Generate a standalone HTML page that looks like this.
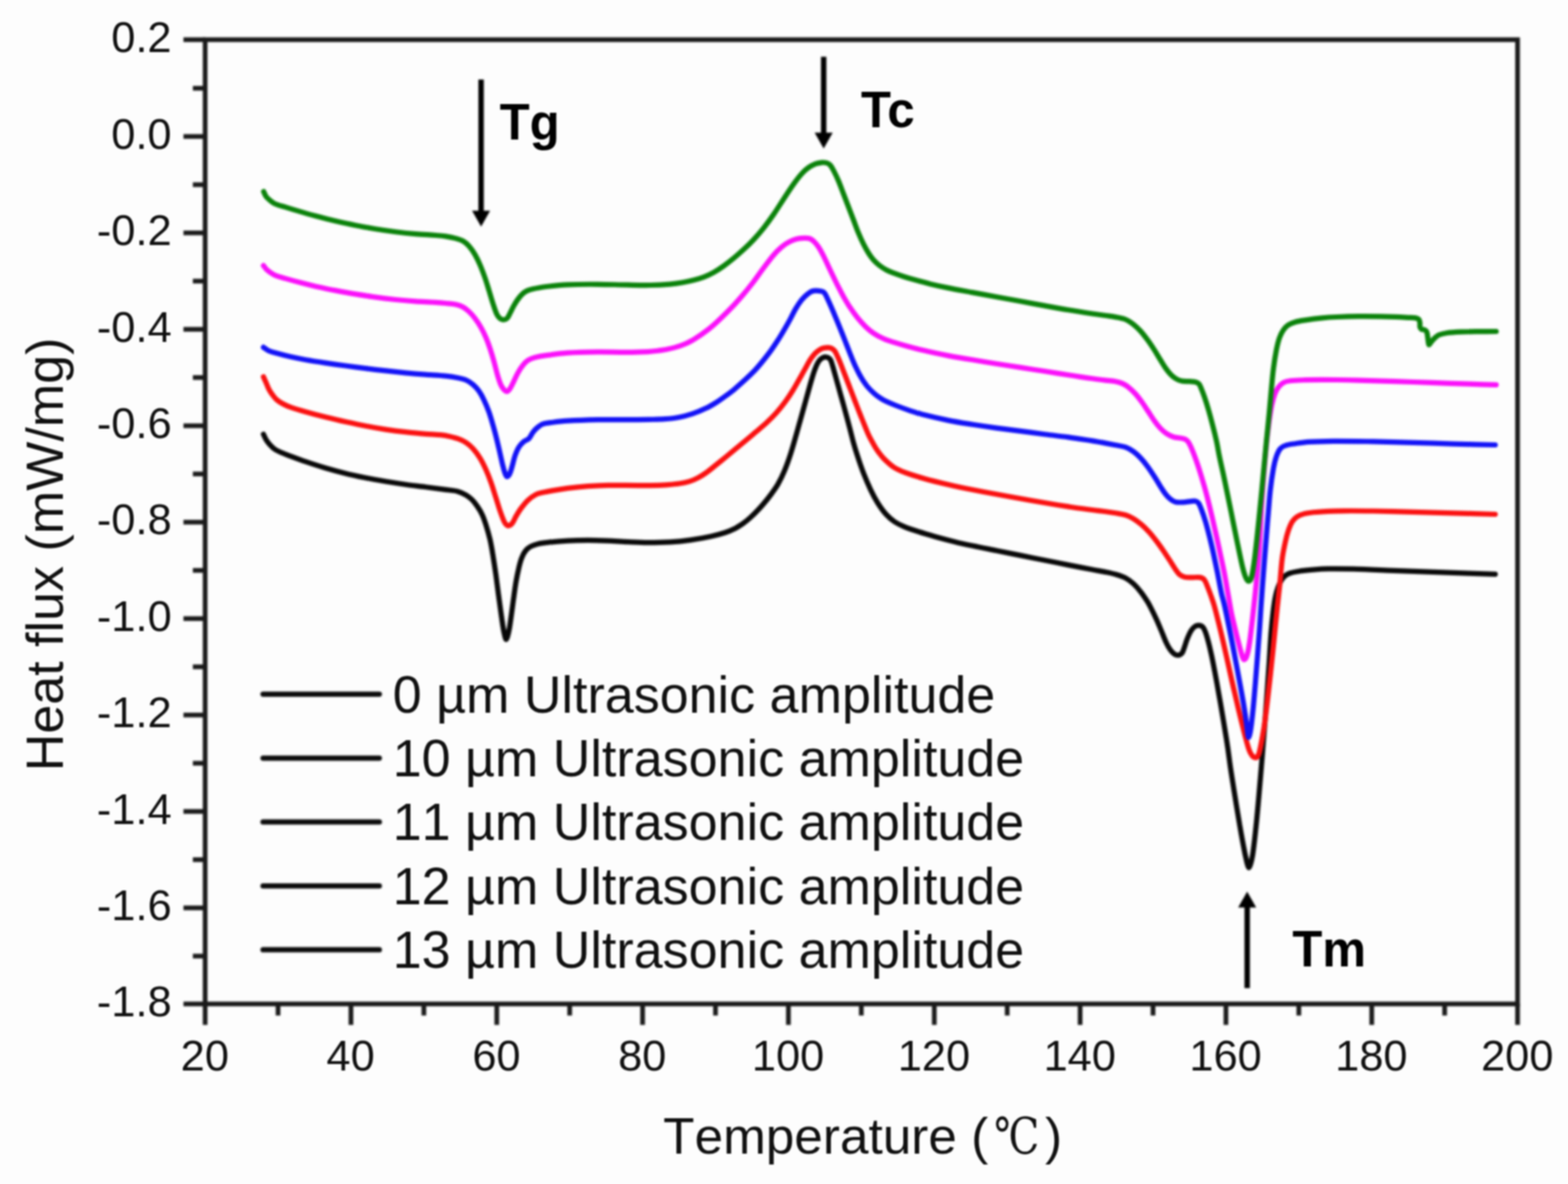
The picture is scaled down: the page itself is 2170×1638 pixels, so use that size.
<!DOCTYPE html>
<html lang="en"><head><meta charset="utf-8"><title>DSC heat flux curves</title>
<style>
html,body{margin:0;padding:0;background:#fdfdfd;}
body{width:2170px;height:1638px;overflow:hidden;}
svg{display:block;}
.gl{filter:blur(1.7px);}
.gt{filter:blur(1.2px);}
text{font-family:"Liberation Sans","Noto Sans CJK SC",sans-serif;fill:#101010;font-kerning:none;}
.tick{font-size:60px;}
.big{font-size:72px;}
.ann{font-size:68px;font-weight:bold;fill:#000;font-kerning:normal;}
.cjk{font-family:"DejaVu Serif","Noto Serif CJK SC",serif;}
.ax{stroke:#1a1a1a;stroke-width:6.5;fill:none;stroke-linecap:butt;}
.cv{fill:none;stroke-width:7.2;stroke-linejoin:round;stroke-linecap:round;}
.lg{stroke:#0c0c0c;stroke-width:7.2;stroke-linecap:round;}
.ar{stroke:#000;stroke-width:7.5;stroke-linecap:butt;}
</style></head><body>
<svg width="2170" height="1638" viewBox="0 0 2170 1638">
<rect x="0" y="0" width="2170" height="1638" fill="#fdfdfd"/>
<g class="gl">
<g class="ax">
<rect x="283.9" y="54.9" width="1816.3" height="1334.0"/>
<line x1="253.9" y1="54.9" x2="283.9" y2="54.9"/>
<line x1="266.9" y1="122.1" x2="283.9" y2="122.1"/>
<line x1="253.9" y1="188.8" x2="283.9" y2="188.8"/>
<line x1="266.9" y1="255.5" x2="283.9" y2="255.5"/>
<line x1="253.9" y1="322.2" x2="283.9" y2="322.2"/>
<line x1="266.9" y1="388.9" x2="283.9" y2="388.9"/>
<line x1="253.9" y1="455.6" x2="283.9" y2="455.6"/>
<line x1="266.9" y1="522.3" x2="283.9" y2="522.3"/>
<line x1="253.9" y1="589.0" x2="283.9" y2="589.0"/>
<line x1="266.9" y1="655.7" x2="283.9" y2="655.7"/>
<line x1="253.9" y1="722.4" x2="283.9" y2="722.4"/>
<line x1="266.9" y1="789.1" x2="283.9" y2="789.1"/>
<line x1="253.9" y1="855.8" x2="283.9" y2="855.8"/>
<line x1="266.9" y1="922.5" x2="283.9" y2="922.5"/>
<line x1="253.9" y1="989.2" x2="283.9" y2="989.2"/>
<line x1="266.9" y1="1055.9" x2="283.9" y2="1055.9"/>
<line x1="253.9" y1="1122.6" x2="283.9" y2="1122.6"/>
<line x1="266.9" y1="1189.3" x2="283.9" y2="1189.3"/>
<line x1="253.9" y1="1256.0" x2="283.9" y2="1256.0"/>
<line x1="266.9" y1="1322.7" x2="283.9" y2="1322.7"/>
<line x1="253.9" y1="1388.9" x2="283.9" y2="1388.9"/>
<line x1="283.9" y1="1388.9" x2="283.9" y2="1417.9"/>
<line x1="384.8" y1="1388.9" x2="384.8" y2="1404.9"/>
<line x1="485.7" y1="1388.9" x2="485.7" y2="1417.9"/>
<line x1="586.6" y1="1388.9" x2="586.6" y2="1404.9"/>
<line x1="687.5" y1="1388.9" x2="687.5" y2="1417.9"/>
<line x1="788.4" y1="1388.9" x2="788.4" y2="1404.9"/>
<line x1="889.3" y1="1388.9" x2="889.3" y2="1417.9"/>
<line x1="990.2" y1="1388.9" x2="990.2" y2="1404.9"/>
<line x1="1091.1" y1="1388.9" x2="1091.1" y2="1417.9"/>
<line x1="1192.0" y1="1388.9" x2="1192.0" y2="1404.9"/>
<line x1="1293.0" y1="1388.9" x2="1293.0" y2="1417.9"/>
<line x1="1393.9" y1="1388.9" x2="1393.9" y2="1404.9"/>
<line x1="1494.8" y1="1388.9" x2="1494.8" y2="1417.9"/>
<line x1="1595.7" y1="1388.9" x2="1595.7" y2="1404.9"/>
<line x1="1696.6" y1="1388.9" x2="1696.6" y2="1417.9"/>
<line x1="1797.5" y1="1388.9" x2="1797.5" y2="1404.9"/>
<line x1="1898.4" y1="1388.9" x2="1898.4" y2="1417.9"/>
<line x1="1999.3" y1="1388.9" x2="1999.3" y2="1404.9"/>
<line x1="2100.2" y1="1388.9" x2="2100.2" y2="1417.9"/>
</g>
<path class="cv" stroke="#080808" d="M364.6 600.7C365.8 603.2 366.8 605.9 368.3 608.3C369.7 610.6 371.4 612.8 373.2 614.8C375.3 617.1 377.5 619.6 380.1 621.4C383.0 623.4 386.5 624.8 389.8 626.3C393.9 628.1 398.0 629.6 402.2 631.2C409.1 633.8 416.0 636.4 423.0 638.7C432.1 641.8 441.3 644.8 450.6 647.5C459.8 650.2 469.0 652.7 478.3 654.9C487.4 657.2 496.7 659.1 505.9 661.0C515.1 662.8 524.3 664.4 533.6 666.0C542.8 667.5 552.0 668.9 561.2 670.2C570.4 671.5 579.7 672.5 588.9 673.7C598.1 674.9 607.3 676.1 616.5 677.4C622.3 678.2 628.2 678.4 633.8 679.9C637.7 680.9 641.4 682.8 644.9 684.8C647.9 686.6 650.7 688.8 653.2 691.3C655.9 694.0 658.3 697.2 660.5 700.4C663.1 704.2 665.6 708.2 667.5 712.4C669.6 716.8 671.0 721.6 672.5 726.2C674.6 732.8 676.5 739.5 678.1 746.2C679.8 753.5 681.0 760.9 682.2 768.3C683.7 777.5 685.1 786.8 686.4 796.0C687.6 804.7 688.6 813.5 689.8 822.2C690.9 830.7 692.1 839.2 693.3 847.7C694.2 854.0 695.0 860.3 696.0 866.5C696.6 870.2 697.2 873.9 698.1 877.5C698.6 879.8 699.3 883.7 700.2 884.4C700.7 884.8 701.9 882.2 702.3 880.9C703.5 877.1 704.3 873.1 705.0 869.2C706.1 862.8 706.9 856.3 707.8 849.9C708.8 843.0 709.6 836.1 710.6 829.2C711.7 821.4 712.7 813.5 714.0 805.7C715.2 798.7 716.6 791.8 718.2 784.9C719.3 780.2 720.5 775.5 722.3 771.1C723.7 767.7 725.5 764.2 727.8 761.4C729.6 759.2 732.1 757.3 734.7 755.9C737.7 754.3 741.1 753.2 744.4 752.4C748.9 751.3 753.6 750.8 758.3 750.3C767.5 749.3 776.7 748.6 785.9 748.1C795.1 747.6 804.4 747.4 813.6 747.4C822.8 747.4 832.0 747.8 841.2 748.2C850.4 748.6 859.7 749.3 868.9 749.7C878.1 750.1 887.3 750.6 896.5 750.6C906.9 750.6 917.3 750.4 927.7 749.8C936.9 749.3 946.1 748.4 955.3 747.1C964.6 745.8 973.8 744.2 983.0 742.2C990.0 740.7 996.9 738.9 1003.7 736.7C1008.4 735.2 1013.1 733.2 1017.5 731.0C1021.4 729.0 1025.0 726.5 1028.6 724.0C1032.0 721.6 1035.2 718.9 1038.3 716.1C1042.1 712.7 1045.8 709.1 1049.3 705.3C1053.2 701.2 1056.9 696.8 1060.5 692.4C1063.3 689.0 1065.9 685.5 1068.5 682.0C1071.3 678.0 1074.2 674.1 1076.6 669.9C1079.9 663.9 1083.0 657.6 1085.6 651.3C1088.9 643.5 1091.7 635.4 1094.3 627.3C1097.5 617.6 1100.1 607.7 1102.9 597.9C1104.6 591.8 1106.3 585.8 1108.0 579.7C1109.7 573.7 1111.3 567.7 1113.0 561.8C1114.7 555.5 1116.5 549.3 1118.2 543.0C1119.8 537.3 1121.3 531.6 1123.0 525.9C1124.4 521.0 1125.8 516.2 1127.6 511.4C1128.8 508.0 1130.2 504.6 1132.0 501.5C1133.2 499.5 1134.8 497.6 1136.6 496.1C1137.9 495.1 1139.7 494.1 1141.3 493.9C1142.9 493.7 1144.9 494.1 1146.3 494.9C1147.6 495.6 1148.9 496.9 1149.6 498.2C1150.8 500.5 1151.3 503.2 1152.1 505.7C1153.3 509.5 1154.3 513.4 1155.4 517.3C1156.8 522.2 1158.1 527.1 1159.5 532.0C1160.9 537.1 1162.3 542.1 1163.7 547.2C1165.1 552.1 1166.4 557.0 1167.8 561.9C1169.2 567.1 1170.6 572.2 1172.0 577.4C1173.7 583.7 1175.4 590.0 1177.0 596.3C1178.4 601.5 1179.5 606.7 1181.0 611.9C1182.7 618.1 1184.6 624.3 1186.6 630.4C1189.2 638.4 1191.9 646.4 1194.9 654.3C1198.0 662.2 1201.3 670.0 1204.9 677.6C1207.9 683.9 1211.1 690.1 1214.8 696.0C1218.3 701.5 1222.1 707.0 1226.5 711.8C1229.9 715.6 1233.9 719.0 1238.1 721.9C1242.2 724.6 1246.7 726.7 1251.3 728.6C1257.8 731.3 1264.5 733.4 1271.2 735.5C1279.4 738.2 1287.8 740.6 1296.1 743.0C1304.4 745.3 1312.7 747.4 1321.0 749.4C1329.3 751.5 1337.6 753.3 1345.9 755.1C1356.9 757.4 1368.0 759.5 1379.1 761.7C1390.2 764.0 1401.2 766.2 1412.3 768.4C1423.3 770.6 1434.4 772.8 1445.4 775.0C1456.5 777.2 1467.5 779.4 1478.6 781.6C1489.7 783.8 1500.7 785.9 1511.8 788.0C1517.9 789.2 1524.0 790.2 1530.0 791.4C1534.6 792.3 1539.3 793.2 1543.8 794.5C1548.5 795.9 1553.4 797.3 1557.7 799.6C1561.7 801.7 1565.3 804.6 1568.7 807.7C1572.2 810.9 1575.4 814.6 1578.4 818.4C1581.4 822.1 1584.1 826.2 1586.7 830.3C1588.7 833.3 1590.5 836.5 1592.2 839.8C1595.1 845.5 1597.9 851.2 1600.5 857.0C1602.9 862.3 1605.1 867.7 1607.4 873.1C1609.7 878.6 1611.7 884.3 1614.3 889.7C1615.9 893.1 1617.7 896.4 1619.9 899.4C1621.4 901.5 1623.3 903.6 1625.4 904.9C1626.9 905.9 1629.2 906.5 1630.9 906.3C1632.6 906.1 1634.7 904.9 1635.8 903.5C1637.5 901.2 1638.2 898.0 1639.2 895.2C1640.7 891.1 1641.7 886.8 1643.4 882.8C1645.0 879.0 1646.6 875.1 1648.9 871.7C1650.3 869.6 1652.3 867.5 1654.4 866.2C1656.0 865.3 1658.2 864.9 1660.0 865.2C1661.7 865.4 1663.7 866.3 1664.8 867.6C1666.4 869.4 1667.4 872.1 1668.3 874.5C1669.9 879.0 1671.2 883.7 1672.4 888.3C1674.0 894.3 1675.3 900.3 1676.6 906.3C1678.1 913.1 1679.4 920.0 1680.7 926.9C1682.1 934.3 1683.5 941.6 1684.8 949.0C1686.2 956.9 1687.6 964.8 1689.0 972.7C1690.4 980.8 1691.8 988.8 1693.1 996.8C1694.5 1005.3 1695.9 1013.9 1697.3 1022.4C1698.0 1027.0 1698.7 1031.6 1699.4 1036.2C1700.6 1045.1 1701.7 1053.9 1703.0 1062.8C1704.3 1071.8 1705.8 1080.8 1707.2 1089.7C1708.5 1098.3 1709.9 1106.8 1711.3 1115.3C1712.7 1123.7 1714.1 1132.1 1715.5 1140.5C1716.8 1148.2 1718.2 1156.0 1719.6 1163.7C1720.7 1169.7 1721.9 1175.7 1723.1 1181.7C1724.0 1185.8 1724.8 1190.0 1725.9 1194.1C1726.5 1196.3 1727.3 1200.1 1728.2 1200.4C1728.9 1200.6 1730.2 1197.2 1730.7 1195.5C1731.9 1191.5 1732.8 1187.3 1733.5 1183.1C1734.6 1176.2 1735.4 1169.2 1736.2 1162.3C1737.2 1153.6 1738.1 1144.8 1739.0 1136.1C1740.0 1126.0 1740.9 1115.8 1741.8 1105.7C1742.7 1095.2 1743.6 1084.7 1744.5 1074.2C1745.2 1065.8 1745.9 1057.4 1746.6 1049.0C1747.2 1041.2 1747.9 1033.3 1748.5 1025.5C1749.4 1014.0 1750.3 1002.4 1751.2 990.9C1752.2 977.8 1753.1 964.8 1754.0 951.7C1754.8 939.8 1755.7 927.8 1756.5 915.9C1757.4 902.6 1758.0 889.2 1759.0 875.9C1759.8 865.9 1760.8 855.9 1762.0 845.9C1762.8 839.2 1763.7 832.5 1765.0 825.9C1765.9 821.5 1767.0 817.1 1768.5 812.9C1769.7 809.4 1771.4 806.0 1773.3 802.9C1774.8 800.4 1776.7 798.0 1778.9 796.2C1780.9 794.6 1783.4 793.4 1785.8 792.7C1790.3 791.3 1795.0 790.6 1799.6 789.9C1806.5 788.9 1813.4 788.3 1820.3 787.8C1826.3 787.3 1832.4 787.0 1838.4 786.9C1849.9 786.8 1861.5 786.9 1873.0 787.2C1891.4 787.7 1909.9 788.6 1928.3 789.3C1946.7 790.0 1965.2 790.7 1983.6 791.4C2002.0 792.1 2020.5 792.7 2038.9 793.4C2049.0 793.8 2059.2 794.1 2069.3 794.4"/>
<path class="cv" stroke="#fa1010" d="M364.6 521.2C365.6 523.5 366.7 525.8 367.7 528.1C369.1 531.3 370.2 534.7 371.8 537.8C373.2 540.5 374.8 543.1 376.6 545.5C378.5 548.2 380.5 550.9 382.9 553.0C385.4 555.2 388.3 556.9 391.2 558.5C394.7 560.4 398.4 562.1 402.2 563.4C409.0 565.8 416.0 567.8 423.0 569.7C432.2 572.3 441.4 574.8 450.6 577.1C459.8 579.4 469.0 581.6 478.3 583.6C487.5 585.6 496.7 587.6 505.9 589.3C515.1 591.1 524.3 592.7 533.6 594.1C542.8 595.5 552.0 596.7 561.2 597.7C570.4 598.8 579.7 599.5 588.9 600.3C595.8 600.9 602.7 601.0 609.6 601.7C613.8 602.1 617.9 602.8 622.0 603.7C626.0 604.6 630.0 605.5 633.8 606.9C637.6 608.3 641.5 610.0 644.9 612.2C648.4 614.5 651.8 617.4 654.6 620.6C658.2 624.6 661.4 629.0 664.2 633.6C667.4 638.7 670.0 644.2 672.5 649.7C675.1 655.5 677.4 661.5 679.5 667.5C682.0 674.5 684.1 681.8 686.4 688.9C688.3 694.7 689.9 700.6 691.9 706.4C693.6 711.3 695.3 716.2 697.4 720.9C698.1 722.5 699.1 724.1 700.2 725.4C700.9 726.3 702.0 727.5 703.0 727.4C704.8 727.2 707.2 725.9 708.5 724.4C710.9 721.6 712.1 717.7 714.0 714.4C716.2 710.7 718.3 707.0 720.9 703.5C723.9 699.5 727.0 695.5 730.6 692.1C733.9 689.0 737.7 686.2 741.7 684.1C744.6 682.6 748.1 682.1 751.3 681.3C755.9 680.2 760.5 679.4 765.2 678.6C772.1 677.4 779.0 676.3 785.9 675.4C795.1 674.3 804.3 673.4 813.6 672.7C822.8 672.0 832.0 671.5 841.2 671.4C855.0 671.2 868.9 671.6 882.7 671.6C888.5 671.6 894.2 671.7 900.0 671.6C906.9 671.4 913.8 671.2 920.7 670.8C927.1 670.3 933.6 669.9 940.0 669.0C944.6 668.4 949.3 667.5 953.8 666.1C957.9 664.9 962.0 663.1 965.8 661.1C969.7 659.1 973.4 656.8 976.9 654.3C981.7 650.9 986.1 647.1 990.7 643.4C995.3 639.7 999.9 636.0 1004.5 632.3C1009.1 628.5 1013.7 624.6 1018.3 620.8C1022.9 616.9 1027.6 613.0 1032.2 609.2C1036.8 605.3 1041.4 601.5 1046.0 597.6C1051.0 593.4 1056.0 589.3 1060.8 584.9C1065.5 580.5 1070.1 576.0 1074.4 571.2C1079.0 566.0 1083.3 560.5 1087.4 554.9C1090.9 550.1 1094.2 545.0 1097.3 540.0C1100.2 535.3 1102.9 530.4 1105.6 525.6C1108.4 520.7 1111.1 515.6 1113.9 510.7C1116.6 506.0 1119.0 501.1 1122.0 496.6C1123.9 493.8 1126.0 491.1 1128.4 488.6C1130.2 486.8 1132.3 485.1 1134.5 483.7C1136.1 482.7 1137.8 481.9 1139.6 481.5C1141.8 481.0 1144.1 480.8 1146.3 480.9C1148.0 481.0 1149.8 481.3 1151.2 482.1C1152.8 483.0 1154.4 484.3 1155.4 485.8C1157.1 488.3 1158.2 491.3 1159.5 494.1C1161.0 497.4 1162.4 500.7 1163.7 504.0C1165.1 507.5 1166.4 511.1 1167.8 514.7C1169.2 518.3 1170.6 522.0 1172.0 525.6C1173.4 529.2 1174.7 532.8 1176.1 536.3C1177.5 540.0 1178.9 543.6 1180.3 547.3C1181.7 550.8 1183.0 554.4 1184.4 557.9C1185.8 561.5 1187.2 565.1 1188.6 568.7C1190.0 572.2 1191.3 575.6 1192.7 579.0C1194.4 583.2 1196.1 587.4 1197.8 591.6C1199.1 594.7 1200.2 597.8 1201.6 600.8C1203.0 603.8 1204.5 606.7 1206.1 609.6C1207.8 612.8 1209.6 616.0 1211.5 619.1C1212.9 621.3 1214.4 623.6 1216.0 625.7C1218.3 628.7 1220.5 631.8 1223.1 634.4C1227.3 638.5 1231.5 642.7 1236.4 645.9C1241.5 649.2 1247.3 651.7 1253.0 653.9C1261.6 657.2 1270.6 659.7 1279.5 662.2C1290.5 665.3 1301.6 667.9 1312.7 670.5C1323.7 673.0 1334.8 675.3 1345.9 677.5C1356.9 679.7 1368.0 681.8 1379.1 683.8C1390.2 685.9 1401.2 687.8 1412.3 689.8C1423.3 691.7 1434.4 693.7 1445.4 695.5C1456.5 697.4 1467.5 699.2 1478.6 700.9C1489.7 702.5 1500.7 704.1 1511.8 705.5C1517.9 706.3 1523.9 706.9 1530.0 707.7C1534.6 708.3 1539.2 709.0 1543.8 709.8C1548.5 710.6 1553.2 711.1 1557.7 712.5C1561.5 713.7 1565.2 715.6 1568.7 717.6C1572.6 720.0 1576.3 722.8 1579.8 725.8C1583.7 729.1 1587.4 732.9 1590.8 736.7C1594.7 741.1 1598.3 745.8 1601.9 750.5C1605.3 755.0 1608.4 759.6 1611.6 764.2C1614.4 768.4 1617.2 772.7 1619.9 776.9C1622.2 780.5 1624.4 784.3 1626.8 787.8C1628.5 790.3 1630.1 792.9 1632.3 794.8C1634.2 796.4 1636.8 797.6 1639.2 798.2C1642.3 799.0 1645.7 798.8 1648.9 798.9C1653.0 799.0 1657.4 798.1 1661.3 798.9C1663.4 799.3 1665.6 800.7 1666.9 802.4C1668.8 804.9 1669.7 808.4 1671.0 811.4C1672.6 815.3 1674.1 819.2 1675.5 823.1C1677.3 828.3 1679.2 833.6 1680.7 838.9C1682.7 846.0 1684.4 853.2 1686.2 860.4C1688.1 868.2 1690.0 875.9 1691.8 883.7C1693.7 891.7 1695.5 899.7 1697.3 907.7C1699.2 916.0 1700.9 924.3 1702.8 932.6C1704.6 940.9 1706.5 949.1 1708.4 957.3C1710.2 965.2 1712.0 973.0 1713.9 980.8C1715.7 988.3 1717.5 995.9 1719.4 1003.4C1721.0 1009.9 1722.6 1016.4 1724.4 1022.9C1725.7 1027.6 1726.8 1032.4 1728.5 1036.9C1729.5 1039.7 1730.7 1042.6 1732.5 1044.9C1733.6 1046.4 1735.6 1048.1 1737.1 1048.2C1738.4 1048.3 1740.3 1046.8 1741.1 1045.5C1742.6 1042.9 1743.1 1039.5 1743.8 1036.5C1744.8 1032.2 1745.6 1027.8 1746.4 1023.5C1747.6 1016.8 1748.8 1010.1 1749.8 1003.4C1751.4 992.3 1752.7 981.1 1754.0 969.9C1755.4 957.8 1756.8 945.7 1758.1 933.6C1759.5 920.4 1760.9 907.2 1762.3 893.9C1763.2 884.7 1764.1 875.4 1765.0 866.2C1765.9 857.0 1766.8 847.8 1767.8 838.6C1768.7 830.4 1769.6 822.1 1770.5 813.9C1770.8 811.5 1771.1 809.2 1771.3 806.8C1772.5 795.0 1773.1 783.1 1774.7 771.3C1775.7 763.9 1777.3 756.5 1778.9 749.2C1780.0 744.0 1781.3 738.9 1783.0 733.9C1784.5 729.6 1786.1 725.2 1788.5 721.5C1790.3 718.8 1792.8 716.4 1795.5 714.6C1797.9 712.9 1800.9 711.9 1803.8 711.1C1808.3 709.9 1813.0 709.4 1817.6 708.8C1821.7 708.3 1825.9 708.0 1830.0 707.8C1839.7 707.3 1849.4 706.9 1859.1 706.8C1872.9 706.6 1886.8 706.8 1900.6 707.0C1919.0 707.3 1937.5 707.9 1955.9 708.3C1974.3 708.8 1992.8 709.3 2011.2 709.8C2030.6 710.3 2049.9 710.9 2069.3 711.5"/>
<path class="cv" stroke="#1212f6" d="M364.6 480.4C367.0 482.0 369.2 484.1 371.8 485.3C374.8 486.7 378.2 487.4 381.5 488.3C388.4 490.2 395.3 492.0 402.2 493.6C409.1 495.2 416.0 496.5 423.0 497.7C432.2 499.3 441.4 500.7 450.6 502.1C459.8 503.5 469.1 504.8 478.3 506.0C487.5 507.3 496.7 508.5 505.9 509.6C515.1 510.8 524.4 511.9 533.6 512.9C542.8 513.9 552.0 514.9 561.2 515.8C570.4 516.7 579.7 517.5 588.9 518.2C598.1 518.9 607.3 519.2 616.5 520.1C622.3 520.7 628.1 521.6 633.8 522.7C637.6 523.5 641.4 524.2 644.9 525.8C648.4 527.3 651.7 529.5 654.6 532.0C657.7 534.6 660.5 537.8 662.9 541.1C665.6 544.9 667.8 549.1 669.8 553.4C672.4 558.8 674.7 564.4 676.7 570.0C678.8 575.9 680.5 582.0 682.2 588.0C684.2 594.9 686.0 601.9 687.7 608.8C689.2 614.8 690.5 620.7 691.9 626.7C693.3 632.7 694.5 638.7 696.0 644.7C696.8 648.0 697.6 651.3 698.8 654.4C699.5 656.2 700.4 659.0 701.6 659.4C702.5 659.7 704.3 657.7 705.0 656.4C706.6 653.3 707.5 649.6 708.5 646.1C710.0 641.1 710.9 635.8 712.6 630.9C714.1 626.6 715.8 622.2 718.2 618.4C720.0 615.5 722.5 613.0 725.1 610.8C727.1 609.1 730.2 608.6 732.0 606.7C734.3 604.3 735.5 600.8 737.5 598.1C739.1 595.9 740.9 593.8 743.0 592.1C745.5 590.0 748.2 587.7 751.3 586.6C755.6 585.1 760.5 584.9 765.2 584.3C772.1 583.4 779.0 582.6 785.9 582.2C799.7 581.4 813.6 581.0 827.4 580.7C841.2 580.5 855.1 580.8 868.9 580.7C878.1 580.7 887.3 580.6 896.5 580.4C904.3 580.2 912.2 580.3 920.0 579.7C926.7 579.2 933.4 578.5 940.0 577.2C946.2 576.1 952.4 574.4 958.4 572.4C964.7 570.3 970.9 567.7 976.9 564.8C981.7 562.6 986.2 559.9 990.7 557.1C994.9 554.5 999.0 551.5 1003.0 548.6C1007.2 545.7 1011.4 542.8 1015.3 539.5C1024.8 531.3 1034.3 523.1 1043.0 514.1C1050.5 506.4 1057.2 497.8 1063.7 489.3C1068.7 482.8 1073.1 475.9 1077.5 469.1C1081.4 463.0 1085.0 456.8 1088.6 450.5C1090.5 447.3 1092.3 443.9 1094.1 440.6C1096.4 436.2 1098.5 431.7 1101.0 427.4C1103.5 423.2 1106.2 419.0 1109.3 415.1C1111.7 412.1 1114.5 409.2 1117.6 406.8C1120.1 404.9 1122.9 402.9 1125.9 402.4C1129.4 401.7 1133.4 402.3 1137.0 403.0C1138.5 403.3 1140.2 404.1 1141.1 405.3C1142.9 407.6 1144.0 410.8 1145.3 413.6C1147.2 417.6 1149.0 421.7 1150.8 425.8C1153.2 431.2 1155.4 436.7 1157.7 442.1C1160.0 447.7 1162.3 453.3 1164.5 458.9C1166.2 463.1 1167.8 467.3 1169.5 471.5C1171.2 475.8 1172.8 480.0 1174.5 484.3C1176.1 488.4 1177.7 492.5 1179.4 496.6C1181.0 500.4 1182.6 504.3 1184.4 508.0C1186.0 511.4 1187.6 514.7 1189.4 518.0C1191.0 520.9 1192.6 523.7 1194.4 526.5C1196.5 529.6 1198.6 532.7 1201.0 535.5C1203.6 538.5 1206.4 541.3 1209.3 543.9C1211.9 546.3 1214.7 548.4 1217.6 550.3C1220.2 552.1 1223.0 553.7 1225.9 555.1C1230.5 557.3 1235.2 559.2 1240.0 561.0C1246.6 563.6 1253.3 566.0 1260.0 568.3C1266.4 570.4 1272.9 572.5 1279.5 574.1C1290.5 576.9 1301.6 579.4 1312.7 581.6C1323.7 583.8 1334.8 585.5 1345.9 587.3C1356.9 589.0 1368.0 590.6 1379.1 592.1C1390.2 593.6 1401.2 595.0 1412.3 596.4C1423.3 597.9 1434.4 599.3 1445.4 600.7C1456.5 602.1 1467.6 603.4 1478.6 604.9C1489.7 606.4 1500.7 608.2 1511.8 609.9C1517.9 610.9 1523.9 612.0 1530.0 613.1C1534.6 614.0 1539.2 614.9 1543.8 615.8C1548.4 616.7 1553.3 617.1 1557.7 618.7C1561.6 620.1 1565.3 622.4 1568.7 624.8C1572.2 627.3 1575.4 630.3 1578.4 633.5C1581.9 637.2 1585.1 641.2 1588.1 645.3C1591.5 649.9 1594.6 654.7 1597.7 659.5C1600.6 664.0 1603.2 668.6 1606.0 673.1C1608.3 676.7 1610.4 680.3 1613.0 683.6C1615.0 686.2 1617.3 688.7 1619.9 690.7C1621.9 692.3 1624.3 693.9 1626.8 694.5C1630.3 695.3 1634.1 695.0 1637.8 694.8C1641.0 694.7 1644.3 693.9 1647.5 693.6C1649.8 693.4 1652.3 692.8 1654.4 693.2C1656.0 693.5 1657.7 694.6 1658.6 695.9C1660.4 698.5 1661.5 701.8 1662.7 704.9C1664.8 710.4 1666.6 715.9 1668.3 721.5C1670.3 728.3 1672.1 735.3 1673.8 742.2C1675.7 750.0 1677.6 757.8 1679.3 765.7C1681.2 774.4 1683.0 783.1 1684.8 791.8C1686.7 801.5 1688.3 811.2 1690.4 820.9C1691.6 826.3 1693.3 831.5 1694.5 836.9C1696.5 845.7 1698.3 854.7 1700.1 863.5C1702.0 872.7 1703.8 881.8 1705.6 891.0C1707.5 900.5 1709.3 910.0 1711.1 919.6C1713.0 929.4 1714.8 939.3 1716.6 949.2C1718.0 957.0 1719.5 964.9 1720.8 972.7C1721.8 978.7 1722.7 984.6 1723.6 990.6C1724.3 995.7 1724.9 1000.8 1725.6 1005.9C1726.3 1010.6 1726.7 1017.7 1727.7 1019.9C1728.1 1020.7 1729.4 1016.7 1729.8 1014.9C1730.8 1010.6 1731.3 1006.1 1731.9 1001.7C1732.9 993.4 1733.8 985.1 1734.6 976.8C1735.6 966.0 1736.5 955.1 1737.4 944.3C1738.4 932.5 1739.3 920.7 1740.2 908.9C1741.1 896.9 1742.1 885.0 1742.9 873.1C1743.7 862.4 1744.3 851.6 1745.0 840.9C1745.7 831.1 1746.4 821.2 1747.1 811.4C1748.0 799.7 1748.9 788.1 1749.8 776.4C1750.7 764.7 1751.7 753.1 1752.6 741.5C1753.5 730.2 1754.4 719.0 1755.4 707.7C1756.3 697.6 1756.9 687.4 1758.1 677.3C1759.2 667.6 1760.6 657.8 1762.3 648.2C1763.3 642.6 1764.5 637.0 1766.4 631.6C1767.7 627.8 1769.4 623.6 1771.9 620.6C1773.6 618.6 1776.4 617.2 1778.9 616.4C1783.3 614.9 1788.1 614.4 1792.7 613.7C1798.7 612.8 1804.7 611.8 1810.7 611.4C1822.2 610.7 1833.8 610.4 1845.3 610.3C1863.7 610.2 1882.2 610.6 1900.6 610.9C1919.0 611.2 1937.5 611.8 1955.9 612.3C1974.3 612.8 1992.8 613.6 2011.2 614.1C2030.6 614.6 2049.9 615.0 2069.3 615.5"/>
<path class="cv" stroke="#fa10fa" d="M364.6 367.4C366.1 369.2 367.3 371.3 369.0 372.9C370.7 374.5 372.6 375.9 374.6 377.2C376.8 378.7 379.0 380.2 381.5 381.2C385.9 383.0 390.7 384.1 395.3 385.4C402.2 387.4 409.1 389.3 416.0 391.1C422.9 392.9 429.8 394.6 436.8 396.2C446.0 398.2 455.2 400.2 464.4 401.9C473.6 403.7 482.8 405.4 492.1 406.9C501.3 408.4 510.5 409.9 519.7 411.1C528.9 412.4 538.1 413.5 547.4 414.5C556.6 415.5 565.8 416.3 575.0 416.9C584.2 417.5 593.5 417.7 602.7 418.3C607.3 418.6 611.9 419.0 616.5 419.5C621.4 420.0 626.3 420.2 631.1 421.2C634.4 421.9 637.7 423.1 640.7 424.7C643.7 426.3 646.5 428.6 649.0 431.0C652.0 433.8 654.8 437.1 657.3 440.4C660.3 444.4 663.1 448.6 665.6 453.0C668.2 457.5 670.4 462.2 672.5 467.0C674.6 471.9 676.4 476.9 678.1 482.0C680.1 488.0 681.9 494.0 683.6 500.1C685.3 506.1 686.6 512.3 688.4 518.4C689.8 523.2 691.3 528.1 693.3 532.7C694.3 535.0 695.8 537.0 697.4 538.9C698.4 540.0 699.7 541.7 700.9 541.7C702.2 541.7 704.0 540.2 705.0 538.9C707.0 536.3 708.4 532.9 709.9 529.9C712.3 525.2 714.2 520.3 716.8 515.7C718.8 512.1 721.1 508.5 723.7 505.3C725.7 502.8 728.0 500.3 730.6 498.6C733.5 496.7 736.9 495.4 740.3 494.5C746.2 493.0 752.3 492.2 758.3 491.4C767.5 490.1 776.7 488.8 785.9 488.2C799.7 487.3 813.6 487.1 827.4 486.9C841.2 486.8 855.1 487.4 868.9 487.3C878.1 487.3 887.3 487.0 896.5 486.6C901.1 486.3 905.7 485.8 910.3 485.2C913.5 484.8 916.8 484.4 920.0 483.8C925.0 482.8 930.1 481.8 935.0 480.4C939.1 479.3 943.1 478.0 947.0 476.3C951.4 474.4 955.9 472.4 960.0 469.8C967.1 465.4 974.1 460.6 980.7 455.4C986.2 451.1 991.4 446.3 996.5 441.4C1002.9 435.3 1009.2 429.0 1015.3 422.5C1020.1 417.4 1024.6 412.2 1029.1 406.9C1033.9 401.2 1038.5 395.4 1043.0 389.6C1047.7 383.4 1052.1 376.9 1056.8 370.7C1061.3 364.7 1065.7 358.5 1070.6 352.8C1074.0 348.8 1077.7 345.1 1081.7 341.7C1084.6 339.2 1087.9 336.9 1091.3 335.1C1094.4 333.4 1097.6 331.9 1101.0 331.0C1104.6 330.0 1108.4 329.6 1112.1 329.4C1114.9 329.2 1117.8 329.2 1120.4 330.0C1122.4 330.6 1124.3 332.1 1125.9 333.5C1128.5 336.0 1130.8 338.8 1132.8 341.8C1135.4 345.7 1137.5 350.0 1139.7 354.2C1142.1 359.0 1144.3 363.9 1146.6 368.8C1148.9 373.7 1151.2 378.6 1153.6 383.4C1155.9 388.1 1158.1 392.8 1160.5 397.4C1162.7 401.8 1165.0 406.1 1167.4 410.4C1170.1 415.1 1172.7 419.8 1175.7 424.3C1179.2 429.6 1182.8 434.7 1186.7 439.6C1190.1 443.9 1193.8 448.0 1197.8 451.8C1201.2 455.1 1204.9 458.3 1208.9 461.0C1213.2 463.9 1217.9 466.4 1222.7 468.5C1227.1 470.5 1231.9 471.9 1236.5 473.4C1242.5 475.3 1248.6 477.1 1254.7 478.7C1262.9 481.0 1271.2 483.2 1279.5 485.1C1290.5 487.6 1301.6 489.9 1312.7 492.1C1323.7 494.2 1334.8 496.0 1345.9 497.8C1357.0 499.7 1368.0 501.4 1379.1 503.2C1390.2 505.0 1401.2 506.7 1412.3 508.4C1423.3 510.1 1434.4 511.8 1445.4 513.5C1456.5 515.3 1467.5 517.0 1478.6 518.7C1484.1 519.6 1489.7 520.5 1495.2 521.4C1500.7 522.2 1506.3 523.0 1511.8 523.8C1517.9 524.6 1523.9 525.4 1530.0 526.1C1534.6 526.7 1539.3 526.8 1543.8 527.7C1547.1 528.3 1550.4 529.2 1553.5 530.6C1556.4 531.9 1559.3 533.7 1561.8 535.8C1565.3 538.5 1568.5 541.7 1571.5 545.0C1575.0 548.9 1578.1 553.2 1581.2 557.5C1584.1 561.5 1586.7 565.8 1589.5 569.9C1592.2 574.0 1594.8 578.3 1597.7 582.3C1600.3 585.9 1603.0 589.4 1606.0 592.6C1608.5 595.2 1611.3 597.8 1614.3 599.8C1617.3 601.8 1620.6 603.4 1624.0 604.5C1627.5 605.6 1631.4 605.5 1635.1 606.3C1637.0 606.7 1639.0 607.0 1640.6 607.9C1642.2 608.8 1643.8 610.3 1644.8 611.9C1647.0 615.4 1648.7 619.4 1650.3 623.3C1652.3 628.1 1654.1 633.1 1655.8 638.0C1657.7 643.5 1659.6 649.1 1661.3 654.7C1663.3 661.0 1665.1 667.3 1666.9 673.6C1668.8 680.5 1670.7 687.4 1672.4 694.4C1674.3 702.0 1676.1 709.6 1677.9 717.3C1679.8 725.5 1681.7 733.7 1683.5 741.9C1685.4 750.3 1687.2 758.8 1689.0 767.2C1690.9 775.9 1692.8 784.6 1694.5 793.4C1696.5 803.9 1698.2 814.4 1700.1 824.9C1701.5 832.7 1702.7 840.5 1704.2 848.2C1705.4 854.3 1707.0 860.3 1708.4 866.3C1709.7 872.0 1711.1 877.6 1712.5 883.2C1713.6 887.6 1714.8 892.1 1716.0 896.6C1716.9 899.8 1717.6 903.1 1718.7 906.3C1719.4 908.4 1720.3 911.5 1721.5 912.4C1722.1 912.9 1723.8 911.4 1724.3 910.4C1725.6 907.9 1726.4 904.9 1727.0 902.1C1728.2 896.7 1729.0 891.1 1729.8 885.6C1730.8 878.2 1731.6 870.8 1732.5 863.4C1733.5 855.1 1734.4 846.9 1735.3 838.6C1736.3 829.4 1737.3 820.1 1738.2 810.9C1739.0 802.9 1739.8 794.9 1740.5 786.9C1741.2 778.9 1742.0 770.9 1742.5 762.9C1743.1 753.9 1743.5 744.9 1744.0 735.9C1744.6 724.2 1745.1 712.6 1745.8 700.9C1746.5 689.2 1747.3 677.6 1748.2 665.9C1749.0 654.9 1749.9 643.9 1750.9 632.9C1751.7 624.2 1752.5 615.6 1753.4 606.9C1754.4 598.2 1755.4 589.5 1756.6 580.9C1757.7 573.5 1758.7 566.2 1760.3 558.9C1761.4 554.0 1762.7 549.1 1764.5 544.4C1765.7 541.2 1767.4 538.1 1769.5 535.4C1771.3 533.1 1773.5 530.7 1776.1 529.3C1779.0 527.8 1782.5 527.2 1785.8 526.8C1792.6 526.0 1799.6 525.9 1806.5 525.7C1814.3 525.5 1822.2 525.4 1830.0 525.4C1836.7 525.4 1843.3 525.4 1850.0 525.5C1860.0 525.6 1870.0 525.8 1880.0 526.1C1896.9 526.5 1913.8 527.0 1930.7 527.6C1947.6 528.2 1964.5 528.8 1981.4 529.4C1998.3 530.0 2015.2 530.6 2032.1 531.2C2044.9 531.6 2057.8 532.0 2070.6 532.4"/>
<path class="cv" stroke="#0a820a" d="M364.9 265.1C366.0 267.4 366.8 269.9 368.3 272.0C369.6 273.8 371.4 275.3 373.2 276.8C375.4 278.6 377.5 280.6 380.1 281.7C384.9 283.8 390.2 285.0 395.3 286.6C402.2 288.8 409.1 290.9 416.0 292.9C422.9 295.0 429.8 296.9 436.8 298.8C446.0 301.2 455.2 303.6 464.4 305.8C473.6 307.9 482.8 309.9 492.1 311.7C501.3 313.6 510.5 315.2 519.7 316.7C528.9 318.2 538.1 319.5 547.4 320.7C556.6 321.8 565.8 322.8 575.0 323.6C584.2 324.4 593.5 324.8 602.7 325.5C607.3 325.9 611.9 326.2 616.5 326.9C621.4 327.7 626.3 328.6 631.1 329.9C634.4 330.8 637.8 331.7 640.7 333.4C643.8 335.2 646.6 337.6 649.0 340.3C652.2 343.9 654.9 348.0 657.3 352.1C659.9 356.6 662.1 361.3 664.2 366.1C666.8 372.1 669.0 378.2 671.2 384.4C673.2 390.1 674.9 396.0 676.7 401.8C678.6 407.8 680.2 413.8 682.2 419.8C683.9 424.9 685.4 430.2 687.7 435.0C688.7 437.1 690.2 439.1 691.9 440.5C693.2 441.6 695.1 442.4 696.7 442.4C698.3 442.4 700.4 441.7 701.6 440.5C703.4 438.7 704.4 436.0 705.7 433.6C707.6 430.0 709.2 426.3 711.2 422.8C713.3 419.1 715.5 415.4 718.2 412.1C720.6 409.1 723.3 405.9 726.5 403.9C729.7 401.8 733.7 400.7 737.5 399.8C744.3 398.2 751.3 397.2 758.3 396.3C767.5 395.2 776.7 394.2 785.9 393.8C799.7 393.2 813.6 393.2 827.4 393.3C841.2 393.4 855.1 394.0 868.9 394.2C879.3 394.4 889.6 394.7 900.0 394.5C909.2 394.3 918.4 393.8 927.6 393.1C933.4 392.6 939.2 391.8 945.0 390.8C950.0 390.0 955.1 388.9 960.0 387.6C964.7 386.4 969.3 385.1 973.8 383.4C978.6 381.6 983.2 379.4 987.7 376.9C992.5 374.2 997.0 371.2 1001.5 368.0C1006.2 364.6 1010.8 361.0 1015.3 357.3C1020.0 353.4 1024.6 349.4 1029.1 345.2C1033.9 340.8 1038.6 336.3 1043.0 331.5C1047.8 326.3 1052.4 320.9 1056.8 315.4C1061.6 309.3 1066.2 303.0 1070.6 296.6C1075.4 289.7 1079.8 282.4 1084.4 275.4C1089.0 268.4 1093.5 261.4 1098.3 254.6C1101.8 249.8 1105.3 245.0 1109.3 240.6C1112.2 237.3 1115.5 234.3 1119.0 231.8C1122.0 229.7 1125.3 227.9 1128.7 226.6C1131.5 225.6 1134.5 225.1 1137.5 224.8C1139.6 224.7 1142.0 224.8 1144.0 225.4C1145.7 225.9 1147.6 227.0 1148.8 228.3C1150.8 230.5 1152.2 233.3 1153.6 235.9C1156.1 240.7 1158.4 245.5 1160.5 250.5C1163.0 256.4 1165.1 262.4 1167.4 268.4C1169.7 274.4 1172.0 280.4 1174.3 286.4C1176.6 292.4 1178.9 298.4 1181.2 304.4C1183.5 310.4 1185.6 316.5 1188.1 322.4C1190.2 327.5 1192.5 332.6 1195.0 337.6C1197.1 341.8 1199.4 346.0 1201.9 350.0C1204.0 353.4 1206.3 356.7 1208.9 359.7C1211.4 362.5 1214.2 365.0 1217.1 367.3C1220.1 369.6 1223.4 371.7 1226.8 373.5C1229.9 375.2 1233.2 376.4 1236.5 377.7C1241.0 379.4 1245.7 381.0 1250.3 382.5C1254.5 383.9 1258.7 385.2 1263.0 386.3C1271.2 388.6 1279.5 390.9 1287.8 392.9C1296.1 394.9 1304.4 396.7 1312.7 398.4C1323.7 400.6 1334.8 402.5 1345.9 404.6C1357.0 406.6 1368.0 408.6 1379.1 410.7C1390.2 412.7 1401.2 414.7 1412.3 416.8C1423.3 418.8 1434.4 420.9 1445.4 422.9C1456.5 424.9 1467.5 426.9 1478.6 428.7C1489.7 430.6 1500.7 432.3 1511.8 434.0C1517.9 434.9 1523.9 435.6 1530.0 436.5C1534.6 437.2 1539.2 437.7 1543.8 438.6C1548.5 439.5 1553.3 440.2 1557.7 442.0C1561.6 443.6 1565.3 446.2 1568.7 448.8C1572.2 451.5 1575.4 454.7 1578.4 458.0C1581.9 461.9 1585.0 466.0 1588.1 470.2C1591.5 474.8 1594.6 479.6 1597.7 484.4C1600.6 488.9 1603.2 493.5 1606.0 498.0C1608.3 501.7 1610.5 505.5 1613.0 509.1C1615.1 512.1 1617.4 515.1 1619.9 517.7C1622.0 519.9 1624.3 522.0 1626.8 523.5C1629.3 525.1 1632.2 526.4 1635.1 527.0C1638.6 527.8 1642.4 527.4 1646.1 527.7C1648.9 527.9 1651.8 527.7 1654.4 528.4C1656.2 528.9 1658.1 529.8 1659.3 531.2C1660.9 533.1 1661.7 535.7 1662.7 538.1C1664.2 541.7 1665.6 545.5 1666.9 549.2C1668.9 555.0 1670.7 560.8 1672.4 566.7C1674.4 573.5 1676.2 580.3 1677.9 587.1C1679.9 594.7 1681.8 602.3 1683.5 610.0C1685.1 617.2 1686.1 624.4 1687.6 631.6C1689.3 640.0 1691.3 648.3 1693.1 656.6C1695.0 665.5 1696.9 674.5 1698.7 683.4C1700.6 692.4 1702.4 701.4 1704.2 710.4C1706.0 719.5 1707.8 728.5 1709.7 737.6C1711.5 746.7 1713.4 755.7 1715.3 764.8C1716.6 771.1 1717.9 777.4 1719.4 783.7C1720.4 787.9 1721.5 792.1 1722.9 796.2C1723.6 798.2 1724.4 800.2 1725.6 801.9C1726.2 802.8 1727.5 804.1 1728.4 803.9C1729.4 803.7 1730.7 802.1 1731.2 800.9C1732.6 797.3 1733.2 793.2 1733.9 789.3C1735.0 782.9 1735.9 776.4 1736.7 769.9C1737.7 761.6 1738.6 753.3 1739.5 745.0C1740.4 736.3 1741.3 727.7 1742.2 719.0C1743.1 709.7 1744.1 700.4 1745.0 691.1C1746.0 681.4 1746.9 671.8 1747.8 662.1C1748.7 652.6 1749.6 643.1 1750.5 633.5C1751.3 625.3 1752.0 617.1 1752.8 608.9C1754.1 595.9 1755.5 582.9 1756.7 569.9C1757.7 559.3 1758.5 548.7 1759.5 538.1C1760.4 528.9 1761.1 519.6 1762.3 510.4C1763.4 501.6 1764.7 492.9 1766.4 484.2C1767.5 478.6 1768.7 473.0 1770.6 467.6C1772.0 463.7 1773.8 459.9 1776.1 456.5C1777.9 453.9 1780.3 451.4 1783.0 449.6C1785.9 447.7 1789.3 446.5 1792.7 445.5C1797.2 444.2 1801.9 443.6 1806.5 442.9C1814.3 441.7 1822.1 440.7 1830.0 439.9C1836.6 439.2 1843.3 438.8 1850.0 438.5C1860.0 438.1 1870.0 437.8 1880.0 437.7C1893.5 437.6 1907.1 437.8 1920.6 438.1C1930.7 438.3 1940.9 438.9 1951.0 439.4C1953.7 439.5 1956.5 439.4 1959.1 439.9C1960.7 440.2 1962.6 440.9 1963.6 442.0C1964.6 443.1 1964.8 445.0 1965.0 446.5C1965.3 448.5 1964.7 450.7 1965.2 452.6C1965.5 453.7 1966.3 455.0 1967.2 455.6C1968.3 456.2 1970.0 455.7 1971.2 456.2C1972.4 456.7 1973.8 457.6 1974.3 458.7C1975.3 460.8 1975.4 463.4 1975.8 465.8C1976.2 468.5 1976.3 471.2 1976.8 473.9C1977.0 474.9 1977.3 477.1 1977.8 476.9C1978.8 476.5 1980.1 473.6 1981.4 472.1C1983.0 470.3 1984.7 468.4 1986.5 466.8C1988.0 465.5 1989.6 464.1 1991.5 463.3C1994.7 462.0 1998.2 461.2 2001.7 460.7C2008.4 459.8 2015.2 459.5 2021.9 459.2C2028.7 458.9 2035.4 458.8 2042.2 458.7C2051.7 458.6 2061.1 458.6 2070.6 458.5"/>
<line class="lg" x1="364" y1="960.3" x2="525" y2="960.3"/>
<line class="lg" x1="364" y1="1048.8" x2="525" y2="1048.8"/>
<line class="lg" x1="364" y1="1137.2" x2="525" y2="1137.2"/>
<line class="lg" x1="364" y1="1225.7" x2="525" y2="1225.7"/>
<line class="lg" x1="364" y1="1313.9" x2="525" y2="1313.9"/>
<line class="ar" x1="665.8" y1="110.0" x2="665.8" y2="293.5"/><polygon fill="#000" points="653.3,291.5 678.3,291.5 665.8,313.5"/>
<line class="ar" x1="1139.9" y1="78.5" x2="1139.9" y2="185.5"/><polygon fill="#000" points="1127.4,183.5 1152.4,183.5 1139.9,205.5"/>
<line class="ar" x1="1726.0" y1="1367.0" x2="1726.0" y2="1253.5"/><polygon fill="#000" points="1713.5,1255.5 1738.5,1255.5 1726.0,1233.5"/>
</g>
<g class="gt">
<g class="tick" text-anchor="end">
<text x="237.5" y="72.4">0.2</text>
<text x="237.5" y="205.8">0.0</text>
<text x="237.5" y="339.2">-0.2</text>
<text x="237.5" y="472.6">-0.4</text>
<text x="237.5" y="606.0">-0.6</text>
<text x="237.5" y="739.4">-0.8</text>
<text x="237.5" y="872.8">-1.0</text>
<text x="237.5" y="1006.2">-1.2</text>
<text x="237.5" y="1139.6">-1.4</text>
<text x="237.5" y="1273.0">-1.6</text>
<text x="237.5" y="1406.4">-1.8</text>
</g>
<g class="tick" text-anchor="middle">
<text x="283.4" y="1480.5">20</text>
<text x="485.2" y="1480.5">40</text>
<text x="687.0" y="1480.5">60</text>
<text x="888.8" y="1480.5">80</text>
<text x="1090.6" y="1480.5">100</text>
<text x="1292.5" y="1480.5">120</text>
<text x="1494.3" y="1480.5">140</text>
<text x="1696.1" y="1480.5">160</text>
<text x="1897.9" y="1480.5">180</text>
<text x="2099.7" y="1480.5">200</text>
</g>
<text class="big" x="917.8" y="1596" style="font-size:71px">Temperature (</text>
<text class="cjk" transform="translate(1375.7,1596) scale(0.8,1)" style="font-size:69.9px">℃</text>
<text class="big" x="1446.2" y="1596" style="font-size:71px">)</text>
<text class="big" transform="translate(87,1067) rotate(-90)" textLength="600" lengthAdjust="spacing">Heat flux (mW/mg)</text>
<text class="big" x="543.5" y="985.5">0 µm Ultrasonic amplitude</text>
<text class="big" x="543.5" y="1074.0">10 µm Ultrasonic amplitude</text>
<text class="big" x="543.5" y="1162.4">11 µm Ultrasonic amplitude</text>
<text class="big" x="543.5" y="1250.9">12 µm Ultrasonic amplitude</text>
<text class="big" x="543.5" y="1339.1">13 µm Ultrasonic amplitude</text>
<text class="ann" transform="translate(691.5,192.7) scale(1,1.04)">Tg</text>
<text class="ann" transform="translate(1191.5,175.8) scale(1,1.04)">Tc</text>
<text class="ann" transform="translate(1788.5,1336.9) scale(1,1.04)">Tm</text>
</g>
</svg></body></html>
